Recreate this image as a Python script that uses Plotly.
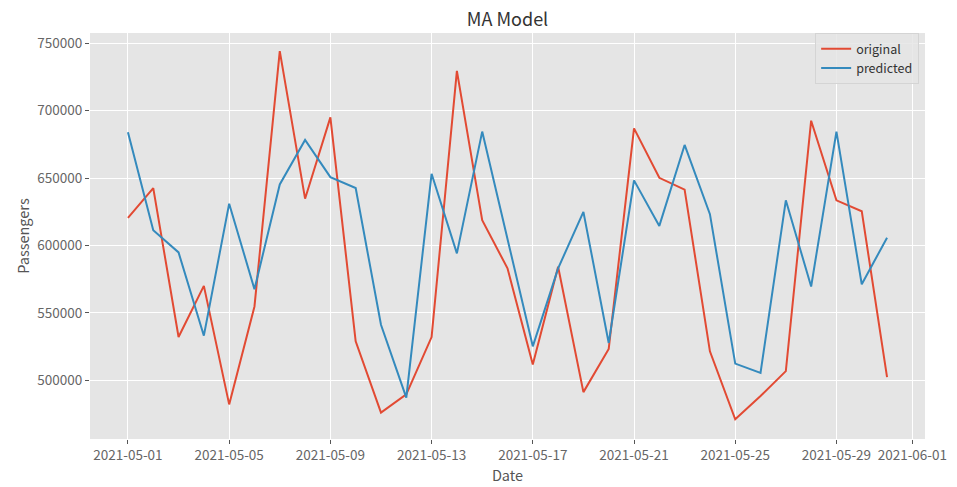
import plotly.graph_objects as go
import pandas as pd

dates = pd.date_range("2021-05-01", "2021-05-31", freq="D")

original = [
    620400, 642600, 532000, 570000, 482000, 554700, 744300, 634700,
    695100, 528800, 475900, 489400, 532000, 729600, 618700, 583000,
    511600, 584200, 491100, 523200, 686900, 650200, 641400, 521400,
    470900, 488200, 506700, 692600, 633500, 625400, 502200,
]
predicted = [
    684000, 611300, 594800, 533000, 631000, 567500, 645300, 678300,
    650700, 642600, 541100, 487000, 653200, 594100, 684500, 605000,
    525100, 583000, 624900, 527600, 648300, 614500, 674600, 623200,
    512300, 505400, 633500, 569500, 684500, 571200, 605700,
]

x_ticks = ["2021-05-01", "2021-05-05", "2021-05-09", "2021-05-13", "2021-05-17",
           "2021-05-21", "2021-05-25", "2021-05-29", "2021-06-01"]
y_ticks = [500000, 550000, 600000, 650000, 700000, 750000]

FONT = "Noto Sans CJK KR, DejaVu Sans, sans-serif"

fig = go.Figure()
fig.add_trace(go.Scatter(x=dates, y=original, mode="lines", name="original",
                         line=dict(color="#E24A33", width=2)))
fig.add_trace(go.Scatter(x=dates, y=predicted, mode="lines", name="predicted",
                         line=dict(color="#348ABD", width=2)))

# the page body adds an 8px offset, so margins are shifted by that much
fig.update_layout(
    width=957, height=487,
    margin=dict(l=82, r=40, t=25, b=56),
    paper_bgcolor="white",
    plot_bgcolor="#E5E5E5",
    font=dict(family=FONT, size=13.5, color="#666666"),
    title=dict(text="MA Model", x=0.522, xanchor="center", y=0.963, yanchor="bottom",
               font=dict(size=18, color="#333333")),
    legend=dict(x=0.993, y=1.0, xanchor="right", yanchor="top",
                bgcolor="rgba(229,229,229,0.85)", bordercolor="#d4d4d4", borderwidth=1,
                font=dict(size=12.5, color="#333333"), tracegroupgap=0, itemwidth=30),
    showlegend=True,
)
fig.update_xaxes(
    range=["2021-04-29 12:00", "2021-06-01 12:00"],
    tickvals=x_ticks, ticktext=x_ticks,
    showgrid=True, gridcolor="white", gridwidth=1,
    ticks="outside", ticklen=4, tickcolor="#555555",
    zeroline=False, showline=False,
    title=dict(text="Date", standoff=0, font=dict(size=14.5, color="#555555")),
)
fig.update_yaxes(
    range=[456300, 757700],
    tickvals=y_ticks, ticktext=[str(v) for v in y_ticks],
    showgrid=True, gridcolor="white", gridwidth=1,
    ticks="outside", ticklen=4, tickcolor="#555555",
    zeroline=False, showline=False,
    title=dict(text="Passengers", standoff=4, font=dict(size=14.5, color="#555555")),
)

fig.write_html("out.html")
